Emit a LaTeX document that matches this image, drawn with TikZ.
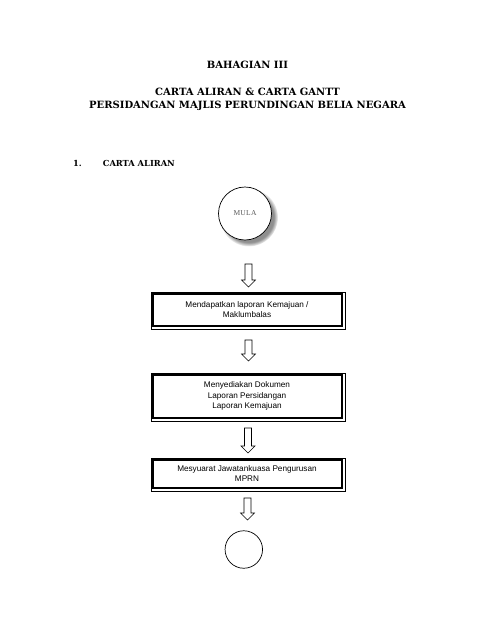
\documentclass[tikz,border=0pt]{standalone}
\usepackage{fontspec}
\setmainfont{Liberation Sans}
\newfontfamily\titlefont{DejaVu Serif}
\newfontfamily\mulafont[LetterSpace=4]{Liberation Serif}
\usetikzlibrary{shadows}
\tikzset{
  titletext/.style={font=\titlefont\bfseries\fontsize{10}{12}\selectfont, anchor=base, inner sep=0},
  sectext/.style={font=\titlefont\bfseries\fontsize{8.3}{10}\selectfont, anchor=base west, inner sep=0},
  stepbox/.style={draw, line width=2pt, minimum width=189pt, align=center, inner sep=0,
    font=\fontsize{8.2}{10.6}\selectfont},
  outerline/.style={line width=0.6pt},
  arrowline/.style={line width=0.6pt, fill=white},
  pics/blockarrow/.style={code={
    \draw[arrowline] (-3.5,0) -- (3.5,0) -- (3.5,#1-7) -- (7,#1-7) -- (0,#1) -- (-7,#1-7) -- (-3.5,#1-7) -- cycle;}},
}
\begin{document}
\begin{tikzpicture}[x=1pt,y=-1pt]
\useasboundingbox[fill=white] (0,0) rectangle (495,640);
% titles
\node[titletext] (t1) at (247.5,68.3) {BAHAGIAN III};
\node[titletext] (t2) at (247.5,95.7) {CARTA ALIRAN \& CARTA GANTT};
\node[titletext] (t3) at (247.5,108.7) {PERSIDANGAN MAJLIS PERUNDINGAN BELIA NEGARA};
\node[sectext] (n1) at (73,166) {1.};
\node[sectext] (s1) at (102.7,166) {CARTA ALIRAN};
% start circle
\node[circle, draw, fill=white, line width=0.7pt, minimum size=53pt, inner sep=0,
  circular drop shadow={shadow xshift=3.5pt, shadow yshift=-3.5pt, fill=black!55, opacity=0.8}]
  (mula) at (245,213.5) {\mulafont\fontsize{7.5}{8}\selectfont\color{black!65}MULA};
% boxes
\node[stepbox, minimum height=32pt] (b1) at (247,309.5) {Mendapatkan laporan Kemajuan /\\Maklumbalas};
\node[stepbox, minimum height=43pt] (b2) at (247,396) {Menyediakan Dokumen\\Laporan Persidangan\\Laporan Kemajuan};
\node[stepbox, minimum height=28pt] (b3) at (247,473.5) {Mesyuarat Jawatankuasa Pengurusan\\MPRN};
\draw[outerline] (b1.north west) rectangle ([shift={(3,3)}]b1.south east);
\draw[outerline] (b2.north west) rectangle ([shift={(3,3)}]b2.south east);
\draw[outerline] (b3.north west) rectangle ([shift={(3,3)}]b3.south east);
% end circle
\node[circle, draw, line width=0.7pt, minimum size=37.5pt, inner sep=0] (end) at (243.8,549.5) {};
% block arrows
\pic at (248.5,264) {blockarrow=23};
\pic at (248.5,340) {blockarrow=21};
\pic at (248,428) {blockarrow=25};
\pic at (247.5,498) {blockarrow=22};
\end{tikzpicture}
\end{document}
